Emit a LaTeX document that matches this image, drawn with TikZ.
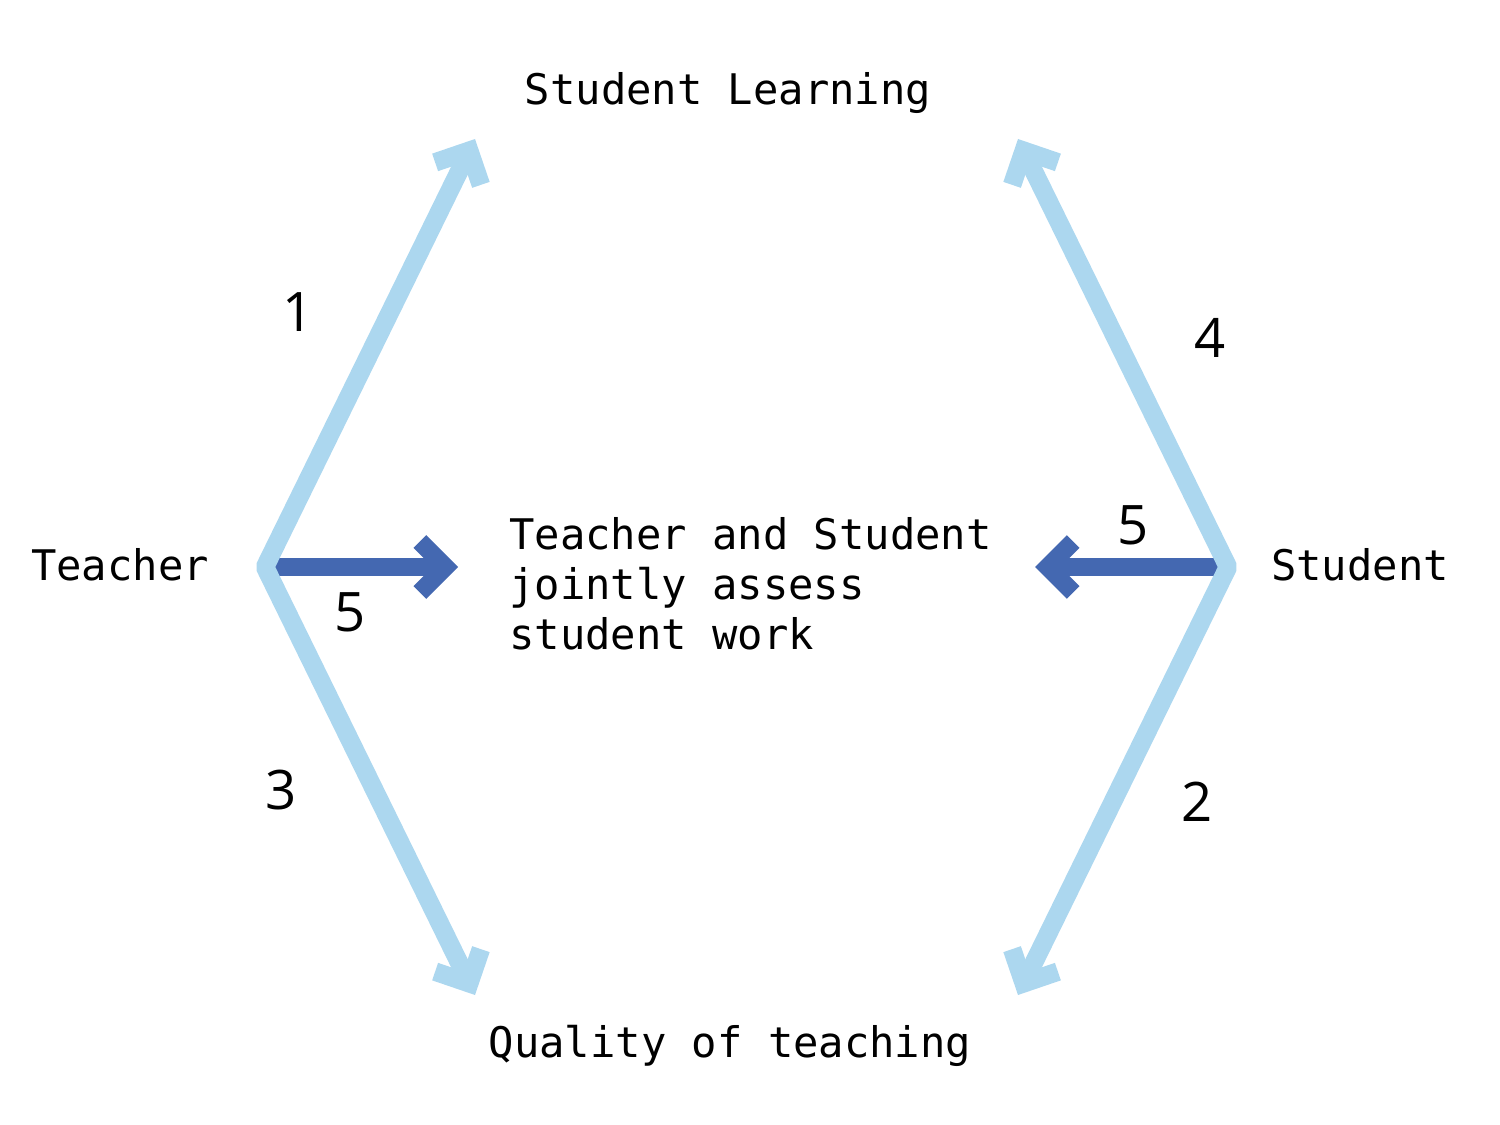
\documentclass[tikz,border=0pt]{standalone}
\usepackage{fontspec}
\setmonofont{DejaVu Sans Mono}
\newfontfamily\numfont{Open Sans}
\usetikzlibrary{arrows.meta}

\definecolor{loopBlue}{HTML}{ACD7EF}
\definecolor{jointBlue}{HTML}{4468B1}

\tikzset{
  chev/.tip={Straight Barb[sharp,length=0.51cm,width=1.02cm]},
  loopline/.style={draw=loopBlue,line width=0.37cm,line join=bevel,{chev}-{chev}},
  jointline/.style={draw=jointBlue,line width=0.36cm,-{chev}},
  lbl/.style={font=\ttfamily\fontsize{24}{28.45}\selectfont,inner sep=0pt},
  stepnum/.style={font=\numfont\fontsize{31}{36}\selectfont,inner sep=0pt}
}

\begin{document}
\begin{tikzpicture}[x=0.02cm,y=-0.02cm]
  \useasboundingbox (0,0) rectangle (1500,1125);

  % corners of the loop
  \coordinate (tv) at (265,567);
  \coordinate (sv) at (1228,567);
  \coordinate (tlearn) at (475,139);
  \coordinate (slearn) at (1018,139);
  \coordinate (tqual) at (475,995);
  \coordinate (squal) at (1018,995);
  \coordinate (tjoint) at (458,567);
  \coordinate (sjoint) at (1035,567);

  \node[lbl,anchor=base] (learn) at (728,105) {Student Learning};
  \node[lbl,anchor=base] (qual) at (730,1057) {Quality of teaching};
  \node[lbl,anchor=base] (teach) at (120,580) {Teacher};
  \node[lbl,anchor=base] (stud) at (1360,580) {Student};
  \node[lbl,anchor=north west,align=left] (joint) at (509,517)
    {Teacher and Student\\jointly assess\\student work};

  \draw[jointline] (tv) -- (tjoint);
  \draw[jointline] (sv) -- (sjoint);
  \draw[loopline] (tlearn) -- (tv) -- (tqual);
  \draw[loopline] (slearn) -- (sv) -- (squal);

  \node[stepnum] (n1) at (298,312) {1};
  \node[stepnum] (n4) at (1210,338) {4};
  \node[stepnum] (n5s) at (1133,525) {5};
  \node[stepnum] (n5t) at (350,612) {5};
  \node[stepnum] (n3) at (281,790) {3};
  \node[stepnum] (n2) at (1197,802) {2};
\end{tikzpicture}
\end{document}
